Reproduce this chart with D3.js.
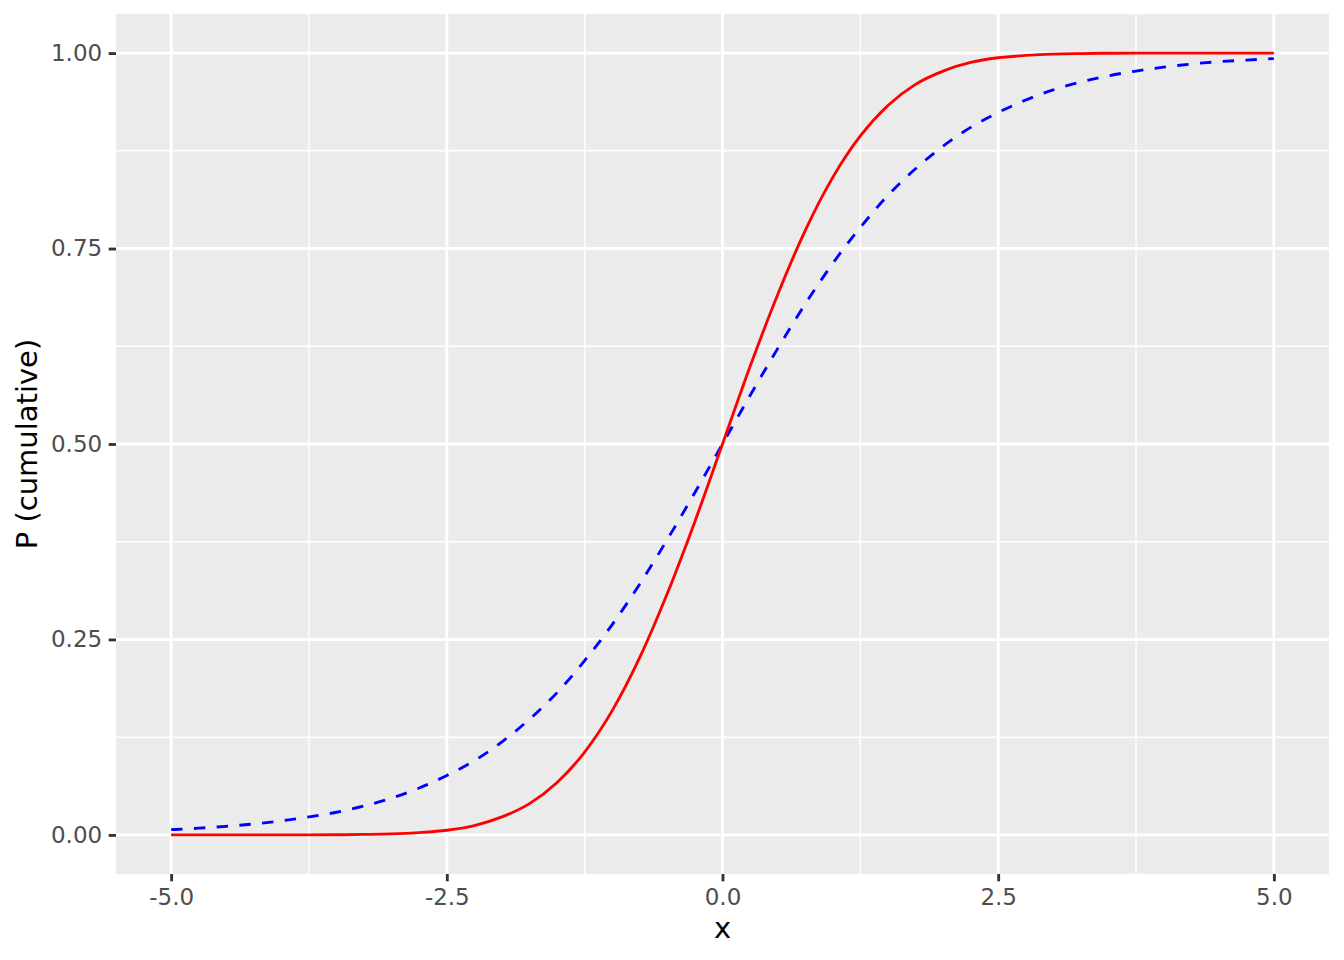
<!DOCTYPE html>
<html>
<head>
<meta charset="utf-8">
<script src="https://cdn.jsdelivr.net/npm/d3@7"></script>
<style>
body { margin: 0; background: #ffffff; }
</style>
</head>
<body>
<svg id="mainSVG" width="1344" height="960"></svg>
<script>
var xValues = [-5, -4.75, -4.5, -4.25, -4, -3.75, -3.5, -3.25, -3, -2.75, -2.5, -2.25, -2, -1.75, -1.5, -1.25, -1, -0.75, -0.5, -0.25,
  0, 0.25, 0.5, 0.75, 1, 1.25, 1.5, 1.75, 2, 2.25, 2.5, 2.75, 3, 3.25, 3.5, 3.75, 4, 4.25, 4.5, 4.75, 5];

// solid red curve
var redValues = [0, 0, 0, 0, 0, 0.0001, 0.0002, 0.0006, 0.0013, 0.003, 0.006, 0.012, 0.023, 0.040, 0.067, 0.106, 0.159, 0.227, 0.309, 0.401,
  0.5, 0.599, 0.691, 0.773, 0.841, 0.894, 0.933, 0.960, 0.977, 0.988, 0.994, 0.997, 0.9987, 0.9994, 0.9998, 0.9999, 1, 1, 1, 1, 1];

// dashed blue curve
var blueValues = [0.0067, 0.0086, 0.011, 0.014, 0.018, 0.023, 0.029, 0.037, 0.047, 0.060, 0.076, 0.095, 0.119, 0.148, 0.182, 0.223, 0.269, 0.321, 0.378, 0.438,
  0.5, 0.562, 0.622, 0.679, 0.731, 0.777, 0.818, 0.852, 0.881, 0.905, 0.924, 0.940, 0.953, 0.963, 0.971, 0.977, 0.982, 0.986, 0.989, 0.991, 0.993];

var xTicks = [-5, -2.5, 0, 2.5, 5];
var xMinor = [-3.75, -1.25, 1.25, 3.75];
var yTicks = [0, 0.25, 0.5, 0.75, 1];
var yMinor = [0.125, 0.375, 0.625, 0.875];

var panelLeft = 116, panelRight = 1329, panelTop = 14, panelBottom = 874;

var x = d3.scaleLinear().domain([-5.5, 5.5]).range([panelLeft, panelRight]);
var y = d3.scaleLinear().domain([-0.05, 1.05]).range([panelBottom, panelTop]);

var svg = d3.select("#mainSVG");

//panel background
svg.append("rect")
    .attr("x", panelLeft)
    .attr("y", panelTop)
    .attr("width", panelRight - panelLeft)
    .attr("height", panelBottom - panelTop)
    .attr("fill", "#EBEBEB");

//grid lines
var grid = svg.append("g");
grid.selectAll(".xminor").data(xMinor).enter().append("line")
    .attr("x1", function(d) { return x(d); })
    .attr("x2", function(d) { return x(d); })
    .attr("y1", panelTop).attr("y2", panelBottom)
    .attr("stroke", "white").attr("stroke-width", 1.4);
grid.selectAll(".yminor").data(yMinor).enter().append("line")
    .attr("y1", function(d) { return y(d); })
    .attr("y2", function(d) { return y(d); })
    .attr("x1", panelLeft).attr("x2", panelRight)
    .attr("stroke", "white").attr("stroke-width", 1.4);
grid.selectAll(".xmajor").data(xTicks).enter().append("line")
    .attr("x1", function(d) { return x(d); })
    .attr("x2", function(d) { return x(d); })
    .attr("y1", panelTop).attr("y2", panelBottom)
    .attr("stroke", "white").attr("stroke-width", 2.85);
grid.selectAll(".ymajor").data(yTicks).enter().append("line")
    .attr("y1", function(d) { return y(d); })
    .attr("y2", function(d) { return y(d); })
    .attr("x1", panelLeft).attr("x2", panelRight)
    .attr("stroke", "white").attr("stroke-width", 2.85);

//curves
var redData = xValues.map(function(d, i) { return [d, redValues[i]]; });
var blueData = xValues.map(function(d, i) { return [d, blueValues[i]]; });

var line = d3.line()
    .x(function(d) { return x(d[0]); })
    .y(function(d) { return y(d[1]); })
    .curve(d3.curveMonotoneX);

svg.append("path")
    .datum(blueData)
    .attr("d", line)
    .attr("fill", "none")
    .attr("stroke", "#0000FF")
    .attr("stroke-width", 2.85)
    .attr("stroke-dasharray", "11.4,11.4");

svg.append("path")
    .datum(redData)
    .attr("d", line)
    .attr("fill", "none")
    .attr("stroke", "#FF0000")
    .attr("stroke-width", 2.85);

//axes
var xAxis = d3.axisBottom(x)
    .tickValues(xTicks)
    .tickSize(7.3)
    .tickPadding(5)
    .tickFormat(function(d) { return d3.format(".1f")(d).replace("\u2212", "-"); });
var gx = svg.append("g")
    .attr("transform", "translate(0," + panelBottom + ")")
    .call(xAxis);

var yAxis = d3.axisLeft(y)
    .tickValues(yTicks)
    .tickSize(7.3)
    .tickPadding(6.5)
    .tickFormat(d3.format(".2f"));
var gy = svg.append("g")
    .attr("transform", "translate(" + panelLeft + ",0)")
    .call(yAxis);

[gx, gy].forEach(function(g) {
  g.select(".domain").remove();
  g.selectAll(".tick line").attr("stroke", "#333333").attr("stroke-width", 2.85);
  g.selectAll(".tick text")
      .attr("fill", "#4D4D4D")
      .attr("font-family", "DejaVu Sans")
      .attr("font-size", 23);
});
gx.selectAll(".tick text").attr("dy", null).attr("y", 31);

//axis titles
svg.append("text")
    .attr("x", (panelLeft + panelRight) / 2)
    .attr("y", 938)
    .attr("text-anchor", "middle")
    .attr("font-family", "DejaVu Sans")
    .attr("font-size", 29)
    .attr("fill", "black")
    .text("x");

svg.append("text")
    .attr("transform", "translate(37," + (panelTop + panelBottom) / 2 + ") rotate(-90)")
    .attr("text-anchor", "middle")
    .attr("font-family", "DejaVu Sans")
    .attr("font-size", 29)
    .attr("fill", "black")
    .text("P (cumulative)");
</script>
</body>
</html>
